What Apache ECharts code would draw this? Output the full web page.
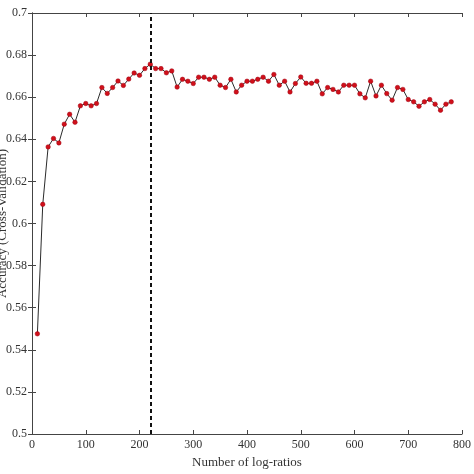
<!DOCTYPE html>
<html>
<head>
<meta charset="utf-8">
<script src="https://cdn.jsdelivr.net/npm/echarts@6/dist/echarts.min.js"></script>
<style>html,body{margin:0;padding:0;background:#fff}#c{width:474px;height:474px}</style>
</head>
<body>
<div id="c"></div>
<script>
const logRatios = [10,20,30,40,50,60,70,80,90,100,110,120,130,140,150,160,170,180,190,200,
  210,220,230,240,250,260,270,280,290,300,310,320,330,340,350,360,370,380,390,400,
  410,420,430,440,450,460,470,480,490,500,510,520,530,540,550,560,570,580,590,600,
  610,620,630,640,650,660,670,680,690,700,710,720,730,740,750,760,770,780];
const accuracy = [0.5476,0.6091,0.6364,0.6404,0.6383,0.6472,0.6519,0.6481,0.6559,0.6570,
  0.6559,0.6570,0.6646,0.6618,0.6646,0.6677,0.6656,0.6686,0.6715,0.6704,
  0.6736,0.6757,0.6736,0.6736,0.6716,0.6725,0.6648,0.6685,0.6676,0.6665,
  0.6695,0.6695,0.6685,0.6695,0.6657,0.6646,0.6685,0.6625,0.6657,0.6676,
  0.6676,0.6685,0.6695,0.6676,0.6708,0.6657,0.6676,0.6625,0.6665,0.6696,
  0.6666,0.6666,0.6676,0.6616,0.6646,0.6637,0.6625,0.6657,0.6657,0.6657,
  0.6616,0.6597,0.6676,0.6606,0.6657,0.6617,0.6586,0.6646,0.6637,0.6589,
  0.6578,0.6557,0.6578,0.6589,0.6567,0.6538,0.6567,0.6578];
const bestK = 220;
const xTitle = 'Number of log-ratios';
const yTitle = 'Accuracy (Cross-Validation)';

const font = 'Liberation Serif';
const axisCol = '#444';
const chart = echarts.init(document.getElementById('c'), null, {renderer: 'canvas'});
const baseX = {
  type: 'value', min: 0, max: 800, interval: 100,
  axisLine: {show: true, lineStyle: {color: axisCol, width: 1}},
  axisTick: {show: true, inside: true, length: 4, lineStyle: {color: axisCol}},
  splitLine: {show: false}
};
const baseY = {
  type: 'value', min: 0.5, max: 0.7, interval: 0.02,
  axisLine: {show: true, lineStyle: {color: axisCol, width: 1}},
  axisTick: {show: true, inside: true, length: 4, lineStyle: {color: axisCol}},
  splitLine: {show: false}
};
chart.setOption({
  animation: false,
  backgroundColor: '#fff',
  grid: {left: 32, right: 12, top: 13, bottom: 40, containLabel: false, outerBoundsMode: 'none'},
  xAxis: [
    Object.assign({}, baseX, {
      position: 'bottom',
      name: xTitle, nameLocation: 'middle', nameGap: 22,
      nameTextStyle: {fontFamily: font, fontSize: 13, color: '#333'},
      axisLabel: {fontFamily: font, fontSize: 12, color: '#333', margin: 5}
    }),
    Object.assign({}, baseX, {position: 'top', axisLabel: {show: false}})
  ],
  yAxis: [
    Object.assign({}, baseY, {
      position: 'left',
      name: yTitle, nameLocation: 'middle', nameGap: 23, nameMoveOverlap: false,
      nameTextStyle: {fontFamily: font, fontSize: 13, color: '#333'},
      axisLabel: {fontFamily: font, fontSize: 12, color: '#333', margin: 5,
        formatter: v => String(+v.toFixed(2))}
    }),
    Object.assign({}, baseY, {position: 'right', axisLabel: {show: false}})
  ],
  series: [{
    type: 'line',
    xAxisIndex: 0, yAxisIndex: 0,
    data: logRatios.map((x, i) => [x, accuracy[i]]),
    symbol: 'circle', symbolSize: 4.5,
    lineStyle: {color: '#2b2b2b', width: 1},
    itemStyle: {color: '#d0101a', borderColor: '#a00010', borderWidth: 0.5},
    markLine: {
      silent: true, symbol: 'none',
      label: {show: false},
      lineStyle: {color: '#111', type: [4, 3], width: 2},
      data: [{xAxis: bestK}]
    },
    z: 3
  }]
});
</script>
</body>
</html>
